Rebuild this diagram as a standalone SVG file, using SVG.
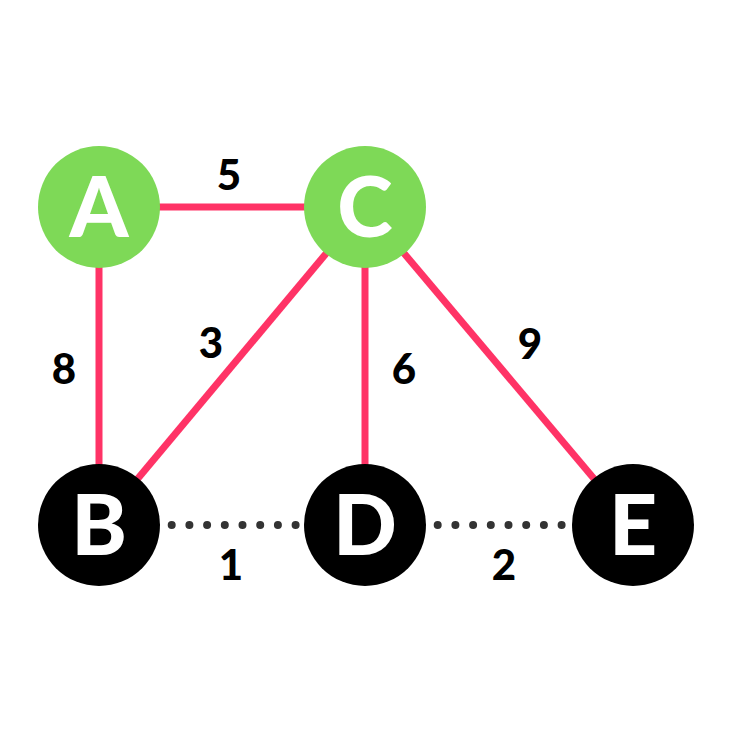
<svg xmlns="http://www.w3.org/2000/svg" width="730" height="730" viewBox="0 0 730 730">
<style>
.e{stroke:#FF3366;stroke-width:7;fill:none}
.d{stroke:#333333;stroke-width:8;stroke-linecap:round;stroke-dasharray:0 17.7;fill:none}
.g{fill:#7ED957}
.k{fill:#000000}
.t{font-family:Lato,"DejaVu Sans",sans-serif;font-weight:900;font-size:84px;fill:#ffffff;text-anchor:middle}
.l{font-family:Lato,"DejaVu Sans",sans-serif;font-weight:900;font-size:42px;fill:#000000;text-anchor:middle}
</style>
<rect width="730" height="730" fill="#ffffff"/>
<g id="connectors">
<line class="e" x1="99" y1="207" x2="365" y2="207"/>
<line class="e" x1="99" y1="207" x2="99" y2="525"/>
<line class="e" x1="365" y1="207" x2="99" y2="525"/>
<line class="e" x1="365" y1="207" x2="365" y2="525"/>
<line class="e" x1="365" y1="207" x2="633" y2="525"/>
<line class="d" x1="171.7" y1="525" x2="296" y2="525"/>
<line class="d" x1="437.7" y1="525" x2="562" y2="525"/>
<text class="l" x="229" y="190">5</text>
<text class="l" x="64" y="384">8</text>
<text class="l" x="211" y="358">3</text>
<text class="l" x="404" y="384">6</text>
<text class="l" x="530" y="359">9</text>
<text class="l" x="231" y="580">1</text>
<text class="l" x="504" y="580">2</text>
</g>
<g id="A"><circle class="g" cx="99" cy="207" r="61"/><text class="t" x="99" y="237">A</text></g>
<g id="C"><circle class="g" cx="365" cy="207" r="61"/><text class="t" x="365" y="237">C</text></g>
<g id="B"><circle class="k" cx="99" cy="525" r="61"/><text class="t" x="99" y="555">B</text></g>
<g id="D"><circle class="k" cx="365" cy="525" r="61"/><text class="t" x="365" y="555">D</text></g>
<g id="E"><circle class="k" cx="633" cy="525" r="61"/><text class="t" x="633" y="555">E</text></g>
</svg>
